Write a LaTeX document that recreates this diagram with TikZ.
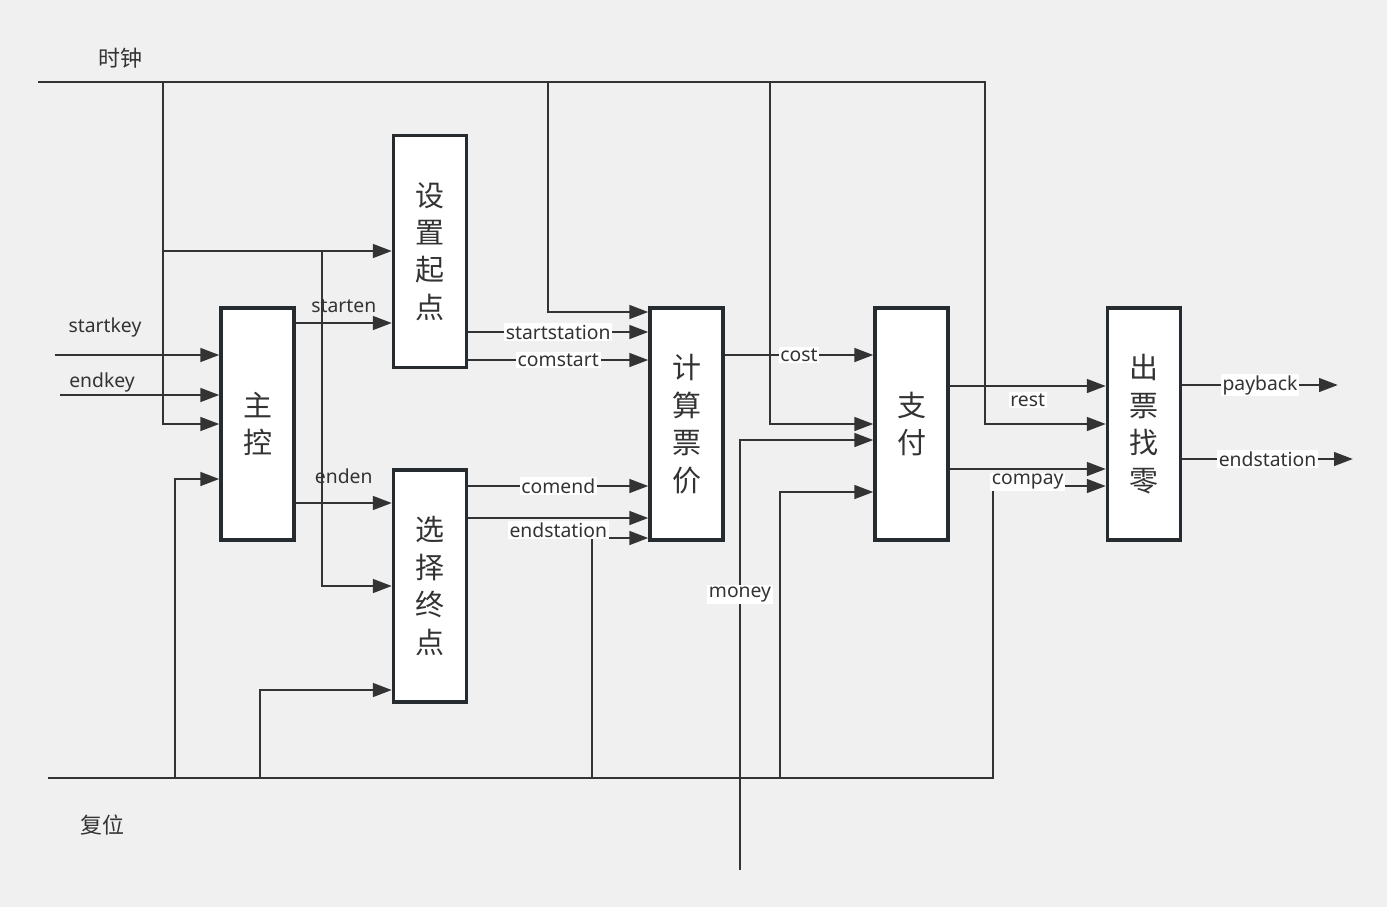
\documentclass[tikz,border=0pt]{standalone}
\usepackage{fontspec}
\setmainfont{Noto Sans}
\newfontfamily\cjk{Noto Sans CJK SC}
\usetikzlibrary{arrows.meta}
\definecolor{wire}{HTML}{333333}
\definecolor{edge}{HTML}{262B2F}
\definecolor{bg}{HTML}{F0F0F0}

\begin{document}
\begin{tikzpicture}[x=0.2mm, y=-0.2mm, line width=1.6pt, draw=wire,
    >={Triangle[length=3.8mm, width=2.7mm]},
    main/.style = {draw=edge, line width=1.8pt, fill=white, rectangle, minimum width=14.6mm, minimum height=46.4mm, inner sep=0pt, align=center, text=wire, font=\cjk\fontsize{16.5}{21.3}\selectfont},
    lbl/.style = {fill=white, inner sep=1pt, text=wire, font=\fontsize{11}{12}\selectfont},
    txt/.style = {inner sep=0pt, text=wire, font=\fontsize{11}{12}\selectfont}]
    \useasboundingbox (0,0) rectangle (1387,907);
    \fill[bg] (0,0) rectangle (1387,907);

    % blocks
    \node[main] (1) at (257.5,424) {主\\控};
    \node[main] (2) at (430,251.5) {设\\置\\起\\点};
    \node[main] (3) at (430,586) {选\\择\\终\\点};
    \node[main] (4) at (686.5,424) {计\\算\\票\\价};
    \node[main] (5) at (911.5,424) {支\\付};
    \node[main] (6) at (1144,424) {出\\票\\找\\零};

    % free ends
    \coordinate (clk) at (38,82);
    \coordinate (rst) at (48,778);
    \coordinate (sk) at (55,355);
    \coordinate (ek) at (60,395);
    \coordinate (mny) at (740,870);
    \coordinate (pb) at (1338,385);
    \coordinate (es) at (1353,459);

    \node[txt, font=\cjk\fontsize{12.5}{14}\selectfont] (t1) at (120,58) {时钟};
    \node[txt, font=\cjk\fontsize{12.5}{14}\selectfont] (t2) at (102,825) {复位};
    \node[txt] (t3) at (105,327) {startkey};
    \node[txt] (t4) at (102,382) {endkey};

    % clock
    \draw[->] (clk) -- (985,82) |- (6.west |- 0,424);
    \draw[->] (163,82) |- (1.west |- 0,424);
    \draw[->] (163,251) -- (2.west |- 0,251);
    \draw[->] (322,251) |- (3.west |- 0,586);
    \draw[->] (548,82) |- (4.west |- 0,312);
    \draw[->] (770,82) |- (5.west |- 0,424);

    % reset
    \draw[->] (rst) -- (993,778) |- (6.west |- 0,486);
    \draw[->] (175,778) |- (1.west |- 0,479);
    \draw[->] (260,778) |- (3.west |- 0,690);
    \draw[->] (592,778) |- (4.west |- 0,538);
    \draw[->] (780,778) |- (5.west |- 0,492);
    \draw[->] (mny) |- (5.west |- 0,440) node[lbl, pos=0.32] {money};

    % keys
    \draw[->] (sk) -- (1.west |- sk);
    \draw[->] (ek) -- (1.west |- ek);

    % signals
    \draw[->] (1.east |- 0,323) -- (2.west |- 0,323) node[txt, midway, above=5pt] {starten};
    \draw[->] (1.east |- 0,503) -- (3.west |- 0,503) node[txt, midway, above=10pt] {enden};
    \draw[->] (2.east |- 0,332) -- (4.west |- 0,332) node[lbl, midway] {startstation};
    \draw[->] (2.east |- 0,360) -- (4.west |- 0,360) node[lbl, midway] {comstart};
    \draw[->] (3.east |- 0,486) -- (4.west |- 0,486) node[lbl, midway] {comend};
    \draw[->] (3.east |- 0,518) -- (4.west |- 0,518) node[lbl, midway, yshift=-2.4mm] {endstation};
    \draw[->] (4.east |- 0,355) -- (5.west |- 0,355) node[lbl, midway] {cost};
    \draw[->] (5.east |- 0,386) -- (6.west |- 0,386) node[lbl, midway, yshift=-2.8mm] {rest};
    \draw[->] (5.east |- 0,469) -- (6.west |- 0,469) node[lbl, midway, yshift=-2.6mm] {compay};
    \draw[->] (6.east |- pb) -- (pb) node[lbl, midway] {payback};
    \draw[->] (6.east |- es) -- (es) node[lbl, midway] {endstation};
\end{tikzpicture}
\end{document}
